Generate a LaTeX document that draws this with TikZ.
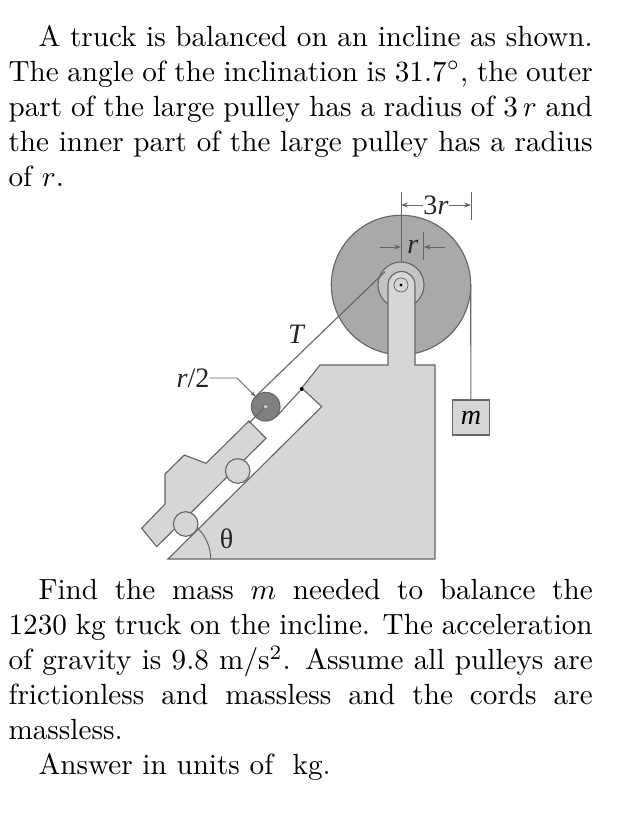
\documentclass[tikz,border=0pt]{standalone}
\usepackage{amsmath}
\usepackage{fontspec}
\newfontfamily\figfont{Liberation Serif}
\usetikzlibrary{arrows.meta}
\definecolor{lightgr}{HTML}{D6D6D6}
\definecolor{midgr}{HTML}{C4C4C4}
\definecolor{wheelgr}{HTML}{A9A9A9}
\definecolor{darkgr}{HTML}{808080}
\definecolor{linegr}{HTML}{666666}
\tikzset{
  para/.style={anchor=north west, scale=2.075, text width=7.036cm, inner sep=0pt, align=justify,
    font=\fontsize{10}{12}\selectfont},
  part/.style={draw=linegr, line width=0.8pt, fill=lightgr},
  wheel/.style={circle, draw=linegr, line width=0.8pt, fill=lightgr, inner sep=0pt, minimum size=0.615cm},
  cord/.style={draw=linegr, line width=0.8pt},
  dimen/.style={draw=linegr, line width=0.7pt, -{Stealth[length=5pt,width=3.5pt]}},
  lab/.style={inner sep=0pt, text=black!85, font=\figfont\fontsize{20}{22}\selectfont}
}
\begin{document}
\begin{tikzpicture}[x=0.025cm, y=-0.025cm]
  \useasboundingbox (0,0) rectangle (640,834);
  % problem text
  \node[para] (top) at (8,25) {\hspace*{0.361cm}A truck is balanced on an incline as shown.\linebreak
    The angle of the inclination is $31.7^\circ$, the outer\linebreak
    part of the large pulley has a radius of $3\,r$ and\linebreak
    the inner part of the large pulley has a radius\linebreak
    of $r$.};
  \node[para] (bottom) at (8,579) {\hspace*{0.361cm}Find the mass $m$ needed to balance the\linebreak
    1230 kg truck on the incline. The acceleration\linebreak
    of gravity is $9.8\ \mathrm{m/s^2}$. Assume all pulleys are\linebreak
    frictionless and massless and the cords are\linebreak
    massless.\par
    \hspace*{0.361cm}Answer in units of\ \ kg.};
  % large pulley
  \node[circle, draw=linegr, line width=0.8pt, fill=wheelgr, inner sep=0pt, minimum size=3.485cm] (outer) at (401,285) {};
  \node[circle, draw=linegr, line width=0.8pt, fill=midgr, inner sep=0pt, minimum size=1.15cm] (inner) at (401,285) {};
  % block with its arm
  \draw[part] (168,559) -- (321.7,406.7) -- (301.7,388) -- (320,365) -- (388,365) -- (388,285)
    arc (180:360:13.5) -- (415,365) -- (435,365) -- (435,559) -- cycle;
  \node[circle, draw=linegr, line width=0.5pt, fill=lightgr, inner sep=0pt, minimum size=0.35cm] (hub) at (401,285) {};
  \node[circle, fill=black, inner sep=0pt, minimum size=0.08cm] (pin) at (401,285) {};
  \node[circle, fill=black, inner sep=0pt, minimum size=0.1cm] (anchor) at (301.7,389) {};
  % truck
  \draw[part] (141.7,528.3) -- (156.7,546.7) -- (266,438.3) -- (249,421) -- (206,463.3)
    -- (184.3,455) -- (165,474) -- (165,504) -- cycle;
  \node[wheel] (rear) at (185.7,524) {};
  \node[wheel] (front) at (237.7,471) {};
  % small pulley and cords
  \node[circle, draw=linegr, line width=0.8pt, fill=darkgr, inner sep=0pt, minimum size=0.715cm] (small) at (265.7,406.7) {};
  \node[circle, draw=linegr, line width=0.4pt, fill=midgr, inner sep=0pt, minimum size=0.12cm] (axle) at (265.7,406.7) {};
  \coordinate (hitch) at (249,423);
  \coordinate (smalltop) at (255.5,396.5);
  \coordinate (smallbot) at (276,417);
  \coordinate (tangent) at (385,271.7);
  \coordinate (rimright) at (470.7,285);
  \draw[cord] (axle) -- (hitch);
  \draw[cord] (smalltop) -- (tangent);
  \draw[cord] (smallbot) -- (anchor);
  % hanging mass
  \node[draw=linegr, line width=0.8pt, fill=lightgr, inner sep=0pt, minimum width=0.91cm, minimum height=0.875cm,
    font=\figfont\fontsize{20}{22}\selectfont\itshape] (mass) at (470.9,417.5) {m};
  \draw[cord] (rimright) -- (mass.north);
  % dimensions
  \coordinate (tickA) at (401,192);
  \coordinate (tickAb) at (401,262);
  \coordinate (tickB) at (471,192);
  \coordinate (tickBb) at (471,220);
  \coordinate (tickC) at (423.7,232);
  \coordinate (tickCb) at (423.7,260);
  \draw[cord, line width=0.7pt] (tickA) -- (tickAb);
  \draw[cord, line width=0.7pt] (tickB) -- (tickBb);
  \draw[cord, line width=0.7pt] (tickC) -- (tickCb);
  \node[lab] (threer) at (436,205) {3\textit{r}};
  \node[lab] (onr) at (413,247) {\textit{r}};
  \draw[dimen] (threer.west) -- (tickA |- threer);
  \draw[dimen] (threer.east) -- (tickB |- threer);
  \coordinate (leftr) at (380,247);
  \coordinate (rightr) at (445,247);
  \draw[dimen] (leftr) -- (tickA |- leftr);
  \draw[dimen] (rightr) -- (tickC |- rightr);
  \node[lab] (tension) at (296.7,334) {\textit{T}};
  \node[lab] (halfr) at (193,378) {\textit{r}/2};
  \coordinate (bend) at (237,378);
  \draw[cord, line width=0.7pt, -{Stealth[length=4pt,width=3pt]}] (halfr.east) -- (bend) -- (smalltop);
  % angle
  \coordinate (apex) at (168,559);
  \draw[cord, line width=0.7pt] (210.7,559) arc (0:-44.7:42.7);
  \node[lab] (angle) at (226.7,539) {θ};
\end{tikzpicture}
\end{document}
